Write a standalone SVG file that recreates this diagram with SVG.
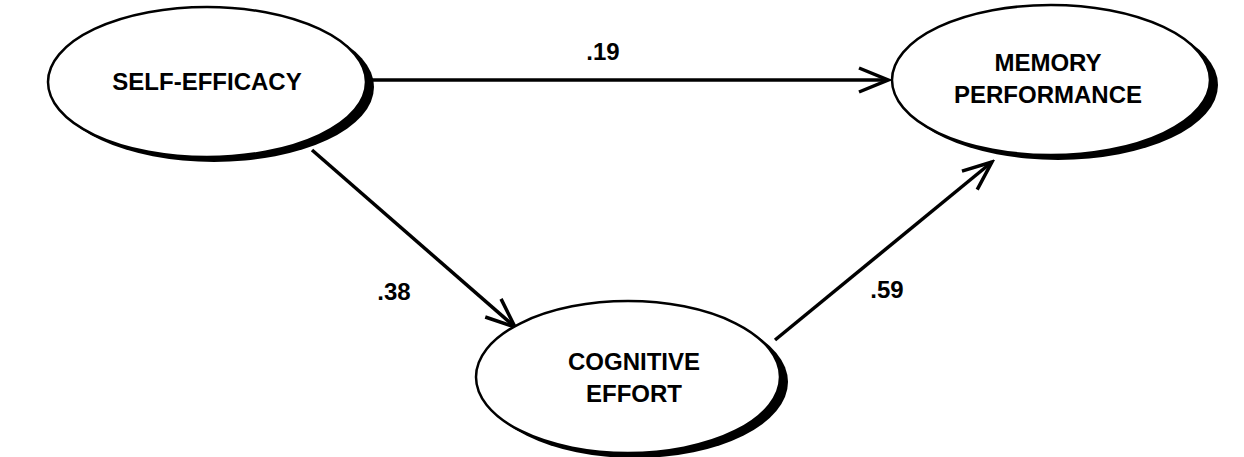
<svg xmlns="http://www.w3.org/2000/svg" width="1244" height="457" viewBox="0 0 1244 457">
<style>
.sh{fill:#000}
.el{fill:#fff;stroke:#000;stroke-width:2.5}
.t{font-family:"Liberation Sans",Arial,sans-serif;font-weight:bold;font-size:24px;text-anchor:middle}
.c{stroke:#000;stroke-width:3.5;fill:none}
</style>
<defs>
<marker id="h" markerWidth="36" markerHeight="30" refX="33" refY="15" orient="auto" markerUnits="userSpaceOnUse" viewBox="0 0 36 30">
<path d="M4,3 L33,15 L4,27" fill="none" stroke="#000" stroke-width="3.5"/>
</marker>
</defs>
<rect width="1244" height="457" fill="#fff"/>
<g id="connectors">
<line class="c" x1="370" y1="80" x2="888" y2="80" marker-end="url(#h)"/>
<line class="c" x1="312" y1="150" x2="515" y2="327" marker-end="url(#h)"/>
<line class="c" x1="775" y1="340" x2="992" y2="162" marker-end="url(#h)"/>
<text class="t" x="603" y="60">.19</text>
<text class="t" x="394" y="300">.38</text>
<text class="t" x="887" y="298">.59</text>
</g>
<g id="self-efficacy">
<ellipse class="sh" cx="214" cy="87" rx="160" ry="75"/>
<ellipse class="el" cx="207" cy="82" rx="159" ry="75"/>
<text class="t" x="207" y="90">SELF-EFFICACY</text>
</g>
<g id="memory-performance">
<ellipse class="sh" cx="1058" cy="85" rx="160" ry="75"/>
<ellipse class="el" cx="1051" cy="80" rx="159" ry="75"/>
<text class="t" x="1048" y="71">MEMORY</text>
<text class="t" x="1048" y="103">PERFORMANCE</text>
</g>
<g id="cognitive-effort">
<ellipse class="sh" cx="635" cy="382" rx="153" ry="76"/>
<ellipse class="el" cx="628" cy="377" rx="152" ry="76"/>
<text class="t" x="634" y="370">COGNITIVE</text>
<text class="t" x="634" y="402">EFFORT</text>
</g>
</svg>
